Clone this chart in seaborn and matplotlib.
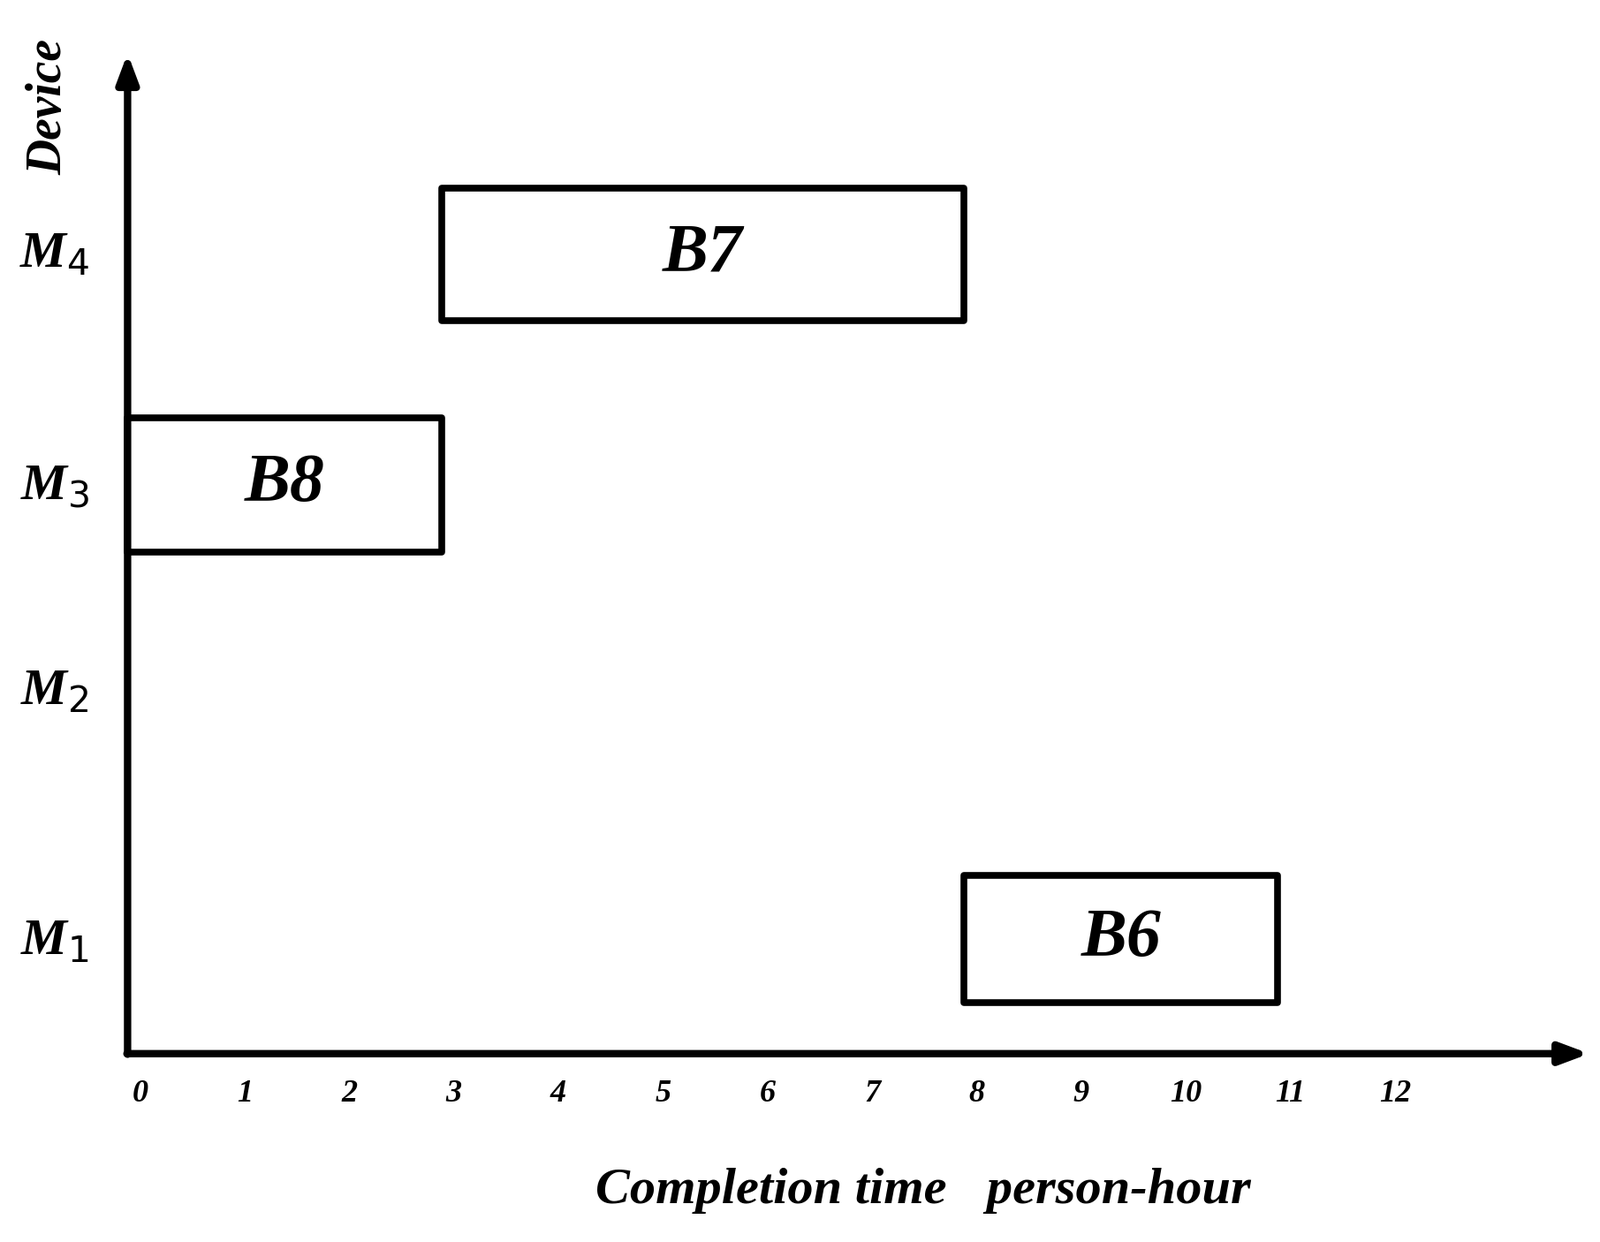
import matplotlib
matplotlib.use("Agg")
import matplotlib.pyplot as plt
import seaborn as sns
from matplotlib.patches import FancyBboxPatch

sns.set_theme(style="white")

devices = ["M$_1$", "M$_2$", "M$_3$", "M$_4$"]
device_y = [1.1, 3.55, 5.57, 7.85]
tasks = ["B6", "B8", "B7"]
task_start = [8, 0, 3]
task_end = [11, 3, 8]
task_bottom = [0.5, 4.93, 7.2]
task_top = [1.75, 6.25, 8.5]
xticks = list(range(13))

fig = plt.figure(figsize=(18.11, 14.06), dpi=100)
ax = fig.add_axes([0, 0, 1, 1])
ax.set_xlim(-1.22, 14.08)
ax.set_ylim(-1.85, 10.35)
ax.axis("off")

font = dict(family="Liberation Serif", weight="bold", style="italic", color="black")

# axes with arrows
ax.annotate("", xy=(14.0, 0), xytext=(-0.03, 0),
            arrowprops=dict(arrowstyle="-|>,head_length=1.6,head_width=0.6", lw=6, color="black"))
ax.annotate("", xy=(0, 9.85), xytext=(0, -0.03),
            arrowprops=dict(arrowstyle="-|>,head_length=1.6,head_width=0.6", lw=6, color="black"))

for name, s, e, b, t in zip(tasks, task_start, task_end, task_bottom, task_top):
    ax.add_patch(plt.Rectangle((s, b), e - s, t - b, fill=False, lw=5.5, ec="black", joinstyle="round"))
    ax.text((s + e) / 2, (b + t) / 2, name, fontsize=56, ha="center", va="center", **font)

for lab, y in zip(devices, device_y):
    ax.text(-0.7, y, lab, fontsize=42, ha="center", va="center", **font)

for v in xticks:
    ax.text(v + 0.12, -0.4, str(v), fontsize=26, ha="center", va="center", **font)

ax.text(7.8, -1.35, "Completion time\uff08person-hour\uff09", fontsize=42, ha="center",
        va="center", family=["Liberation Serif", "Noto Sans CJK SC"], weight="bold",
        style="italic", color="black")
ax.text(-0.75, 9.3, "Device", fontsize=40, ha="center", va="center", rotation=90, **font)

fig.savefig("out.png", dpi=100)
